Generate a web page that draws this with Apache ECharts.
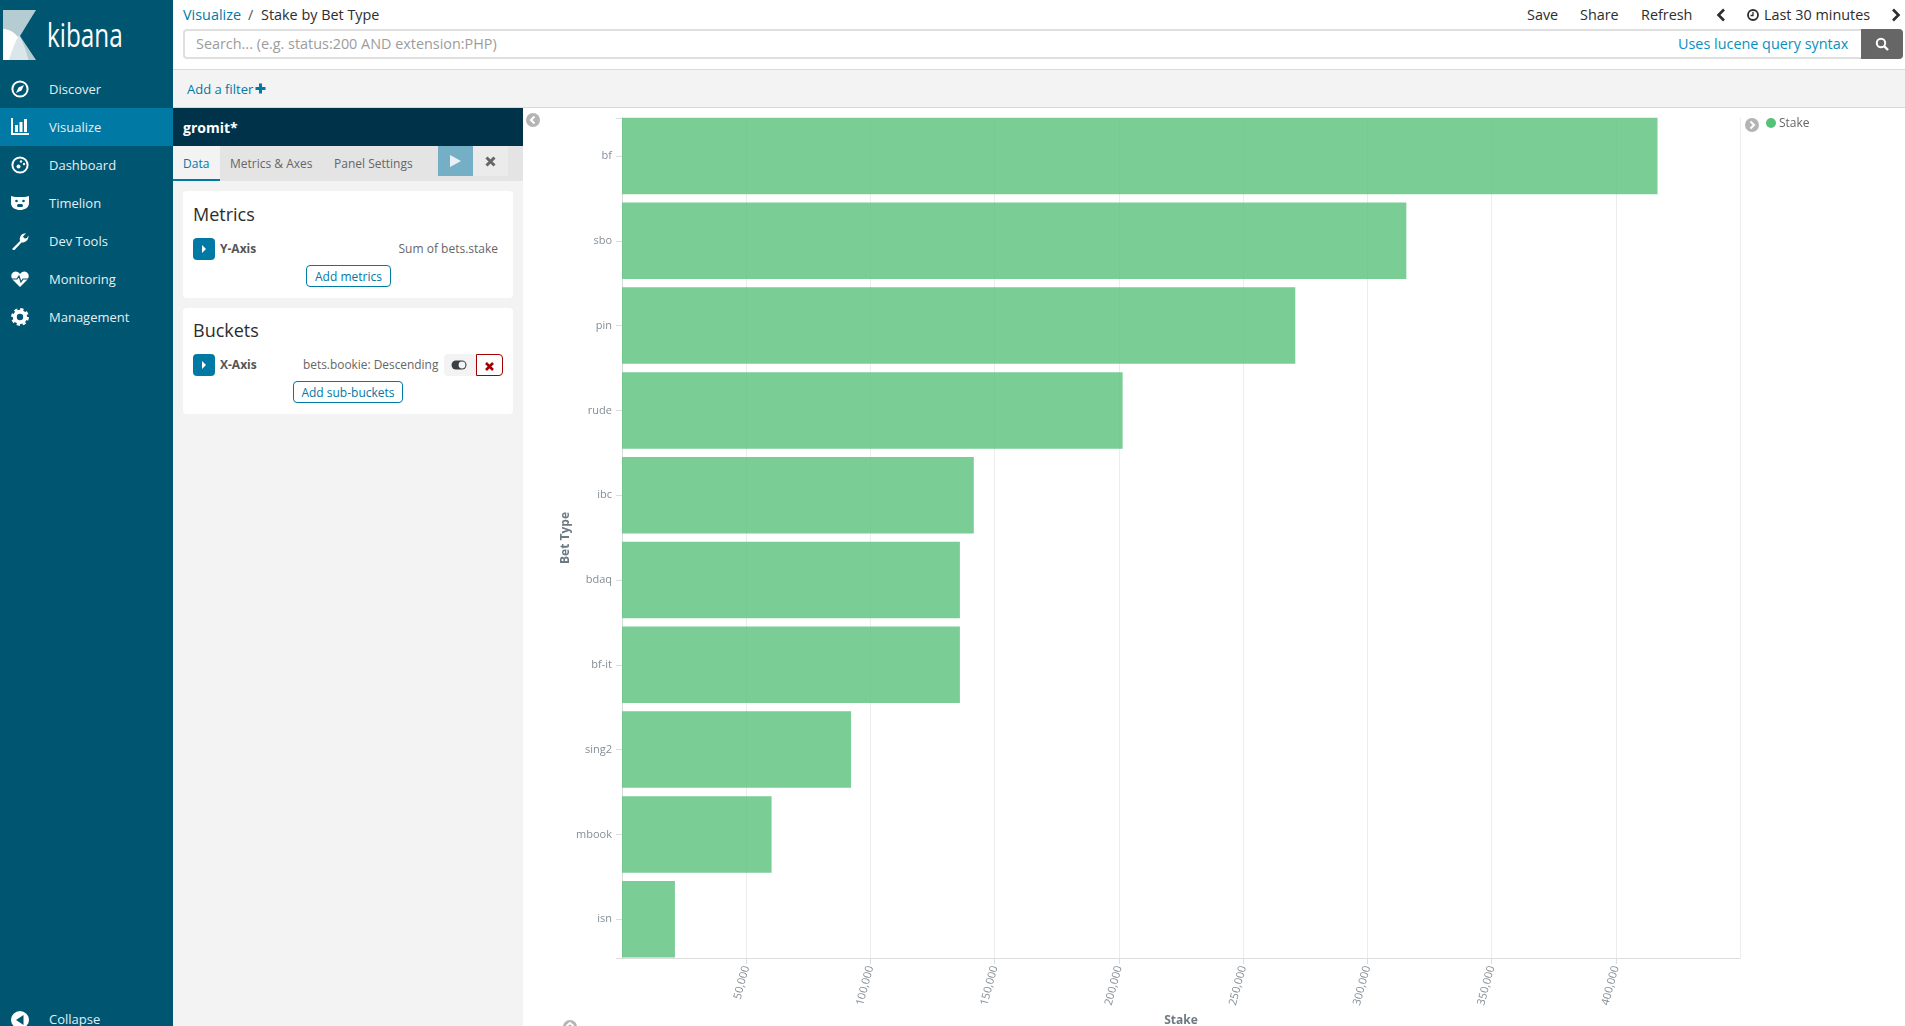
<!DOCTYPE html>
<html>
<head>
<meta charset="utf-8">
<title>Stake by Bet Type - Kibana</title>
<script src="https://cdn.jsdelivr.net/npm/echarts@6/dist/echarts.min.js"></script>
<style>
html,body{margin:0;padding:0;width:1905px;height:1026px;overflow:hidden;background:#fff;font-family:"Open Sans",sans-serif;font-size:13px;color:#2d2d2d}
.a{position:absolute;white-space:nowrap;line-height:1}
.box{position:absolute;box-sizing:border-box}
.nav{position:absolute;left:49px;color:#e4f0f5;font-size:13px;line-height:1;white-space:nowrap}
.link{color:#0079a5}
.ico{position:absolute}
#chart{position:absolute;left:524px;top:108px;width:1381px;height:918px}
</style>
</head>
<body>
<!-- side nav -->
<div class="box" style="left:0;top:0;width:173px;height:1026px;background:#005571"></div>
<div class="box" style="left:0;top:108px;width:173px;height:38px;background:#0079a5"></div>
<svg class="ico" style="left:3px;top:10px" width="33" height="50" viewBox="0 0 33 50">
	<polygon points="0,0 33,0 17,26 33,50 0,50" fill="#b5ccd3"/>
	<path d="M0,19 C10,19 20,28 25,50 L0,50 Z" fill="#fff"/>
	<path d="M6,50 C9,40 12,32 16,25 C20,32 23,40 25,50 Z" fill="#dbe6ea"/>
</svg>
<div class="a" style="left:47px;top:19px;font-size:32px;color:#fff;transform:scaleX(.76);transform-origin:0 0">kibana</div>

<svg class="ico" style="left:11px;top:80px" width="18" height="18" viewBox="0 0 18 18"><circle cx="9" cy="9" r="7.6" fill="none" stroke="#fff" stroke-width="2"/><polygon points="13,5 10.5,10.5 5,13 7.5,7.5" fill="#fff"/></svg>
<svg class="ico" style="left:11px;top:118px" width="18" height="18" viewBox="0 0 18 18"><path d="M1,0 V16 H18" fill="none" stroke="#fff" stroke-width="2"/><rect x="4" y="7" width="3" height="7" fill="#fff"/><rect x="8.5" y="4" width="3" height="10" fill="#fff"/><rect x="13" y="1" width="3" height="13" fill="#fff"/></svg>
<svg class="ico" style="left:11px;top:156px" width="18" height="18" viewBox="0 0 18 18"><circle cx="9" cy="9" r="7.6" fill="none" stroke="#fff" stroke-width="2"/><circle cx="7.5" cy="10.5" r="2" fill="#fff"/><circle cx="10" cy="5.5" r="1.2" fill="#fff"/><circle cx="13" cy="8" r="1.2" fill="#fff"/></svg>
<svg class="ico" style="left:11px;top:195px" width="18" height="16" viewBox="0 0 18 16"><path d="M0,1 L4,2 H14 L18,1 V8 C18,13 13,15 9,15 C5,15 0,13 0,8 Z" fill="#fff"/><circle cx="5.5" cy="6" r="1.3" fill="#005571"/><circle cx="12.5" cy="6" r="1.3" fill="#005571"/><rect x="6" y="9" width="6" height="3" rx="1.5" fill="#005571"/></svg>
<svg class="ico" style="left:11px;top:232px" width="18" height="18" viewBox="0 0 18 18"><path d="M1.5,16.5 L9,9 C8,5 10.5,1 15,1.2 L12,4.5 L13.5,6.5 L16,6 L17.5,3.5 C18,8 14,11 10.5,10.5 L3.5,18 C2,18.5 .8,17.5 1.5,16.5 Z" fill="#fff"/></svg>
<svg class="ico" style="left:11px;top:271px" width="18" height="16" viewBox="0 0 18 16"><path d="M9,16 L1.5,8.5 C-1,5.5 .5,.5 4.5,.5 C6.5,.5 8,1.5 9,3 C10,1.5 11.5,.5 13.5,.5 C17.5,.5 19,5.5 16.5,8.5 Z" fill="#fff"/><path d="M1,8 H6 L8,5 L10,11 L12,8 H17" fill="none" stroke="#005571" stroke-width="1.2"/></svg>
<svg class="ico" style="left:11px;top:308px" width="18" height="18" viewBox="0 0 18 18"><circle cx="9" cy="9" r="5.2" fill="none" stroke="#fff" stroke-width="4"/><circle cx="9" cy="9" r="7.6" fill="none" stroke="#fff" stroke-width="2.6" stroke-dasharray="3.2 2.77"/></svg>
<svg class="ico" style="left:11px;top:1011px" width="18" height="18" viewBox="0 0 18 18"><circle cx="9" cy="9" r="9" fill="#fff"/><polygon points="12.5,4 12.5,14 5,9" fill="#005571"/></svg>

<div class="nav" style="top:83px">Discover</div>
<div class="nav" style="top:121px">Visualize</div>
<div class="nav" style="top:159px">Dashboard</div>
<div class="nav" style="top:197px">Timelion</div>
<div class="nav" style="top:235px">Dev Tools</div>
<div class="nav" style="top:273px">Monitoring</div>
<div class="nav" style="top:311px">Management</div>
<div class="nav" style="top:1013px">Collapse</div>

<!-- top bar -->
<div class="a link" style="left:183px;top:8px;font-size:14.4px">Visualize</div>
<div class="a" style="left:248px;top:8px;font-size:14.4px;color:#555">/</div>
<div class="a" style="left:261px;top:8px;font-size:14.4px">Stake by Bet Type</div>
<div class="a" style="left:1527px;top:8px;font-size:14.4px">Save</div>
<div class="a" style="left:1580px;top:8px;font-size:14.4px">Share</div>
<div class="a" style="left:1641px;top:8px;font-size:14.4px">Refresh</div>
<svg class="ico" style="left:1716px;top:8px" width="10" height="14" viewBox="0 0 10 14"><path d="M8,1.5 L2.5,7 L8,12.5" fill="none" stroke="#2d2d2d" stroke-width="2.6"/></svg>
<svg class="ico" style="left:1747px;top:9px" width="12" height="12" viewBox="0 0 12 12"><circle cx="6" cy="6" r="5" fill="none" stroke="#2d2d2d" stroke-width="1.8"/><path d="M6,3 V6.5 H3.5" fill="none" stroke="#2d2d2d" stroke-width="1.3"/></svg>
<div class="a" style="left:1764px;top:8px;font-size:14.4px">Last 30 minutes</div>
<svg class="ico" style="left:1891px;top:8px" width="10" height="14" viewBox="0 0 10 14"><path d="M2,1.5 L7.5,7 L2,12.5" fill="none" stroke="#2d2d2d" stroke-width="2.6"/></svg>

<div class="box" style="left:183px;top:29px;width:1680px;height:30px;border:2px solid #dfdfdf;border-right:0;border-radius:4px 0 0 4px"></div>
<div class="a" style="left:196px;top:37px;font-size:14.4px;color:#9c9c9c">Search... (e.g. status:200 AND extension:PHP)</div>
<div class="a" style="left:1678px;top:37px;font-size:14.4px;color:#0a8fc0">Uses lucene query syntax</div>
<div class="box" style="left:1861px;top:29px;width:42px;height:30px;background:#666;border-radius:0 4px 4px 0"></div>
<svg class="ico" style="left:1875px;top:37px" width="14" height="14" viewBox="0 0 14 14"><circle cx="6" cy="6" r="4.2" fill="none" stroke="#fff" stroke-width="2"/><path d="M9,9 L13,13" stroke="#fff" stroke-width="2.4"/></svg>

<!-- filter bar -->
<div class="box" style="left:173px;top:69px;width:1732px;height:39px;background:#f3f3f3;border-top:1px solid #d9d9d9;border-bottom:1px solid #d9d9d9"></div>
<div class="a link" style="left:187px;top:83px;font-size:13px">Add a filter</div>
<svg class="ico" style="left:255px;top:83px" width="11" height="11" viewBox="0 0 11 11"><path d="M5.5,.5 V10.5 M.5,5.5 H10.5" stroke="#0079a5" stroke-width="3"/></svg>

<!-- vis editor panel -->
<div class="box" style="left:173px;top:108px;width:350px;height:918px;background:#f3f3f3"></div>
<div class="box" style="left:173px;top:108px;width:350px;height:38px;background:#003249"></div>
<div class="a" style="left:183px;top:121px;font-size:14px;font-weight:700;color:#fff">gromit*</div>
<div class="box" style="left:173px;top:146px;width:350px;height:35px;background:#e4e4e4"></div>
<div class="box" style="left:173px;top:146px;width:47px;height:35px;background:#f3f3f3;border-bottom:2px solid #0079a5"></div>
<div class="a link" style="left:183px;top:158px;font-size:12px">Data</div>
<div class="a" style="left:230px;top:158px;font-size:12px;color:#666">Metrics &amp; Axes</div>
<div class="a" style="left:334px;top:158px;font-size:12px;color:#666">Panel Settings</div>
<div class="box" style="left:438px;top:146px;width:35px;height:30px;background:#74afc6"></div>
<svg class="ico" style="left:449px;top:154px" width="13" height="14" viewBox="0 0 13 14"><polygon points="1,1 12,7 1,13" fill="#e8f2f6"/></svg>
<div class="box" style="left:473px;top:146px;width:35px;height:30px;background:#ebebeb"></div>
<svg class="ico" style="left:485px;top:156px" width="11" height="11" viewBox="0 0 11 11"><path d="M1.5,1.5 L9.5,9.5 M9.5,1.5 L1.5,9.5" stroke="#666" stroke-width="3"/></svg>

<div class="box" style="left:183px;top:191px;width:330px;height:107px;background:#fff;border-radius:4px"></div>
<div class="a" style="left:193px;top:205px;font-size:18px">Metrics</div>
<div class="box" style="left:193px;top:238px;width:22px;height:22px;background:#0079a5;border-radius:4px"></div>
<svg class="ico" style="left:201px;top:245px" width="6" height="8" viewBox="0 0 6 8"><polygon points="1,0 5,4 1,8" fill="#fff"/></svg>
<div class="a" style="left:220px;top:243px;font-size:12px;font-weight:700;color:#555">Y-Axis</div>
<div class="a" style="right:1407px;top:243px;font-size:12px;color:#666">Sum of bets.stake</div>
<div class="box link" style="left:306px;top:265px;width:85px;height:22px;border:1px solid #0079a5;border-radius:4px;font-size:12px;text-align:center;line-height:21px">Add metrics</div>

<div class="box" style="left:183px;top:308px;width:330px;height:106px;background:#fff;border-radius:4px"></div>
<div class="a" style="left:193px;top:321px;font-size:18px">Buckets</div>
<div class="box" style="left:193px;top:354px;width:22px;height:22px;background:#0079a5;border-radius:4px"></div>
<svg class="ico" style="left:201px;top:361px" width="6" height="8" viewBox="0 0 6 8"><polygon points="1,0 5,4 1,8" fill="#fff"/></svg>
<div class="a" style="left:220px;top:359px;font-size:12px;font-weight:700;color:#555">X-Axis</div>
<div class="a" style="left:303px;top:359px;font-size:11.9px;color:#666">bets.bookie: Descending</div>
<div class="box" style="left:444px;top:354px;width:33px;height:22px;background:#f3f3f3;border-radius:4px 0 0 4px"></div>
<svg class="ico" style="left:451px;top:360px" width="16" height="10" viewBox="0 0 16 10"><rect x=".5" y=".5" width="15" height="9" rx="4.5" fill="#3a3f44"/><circle cx="11" cy="5" r="3.4" fill="#f3f3f3"/></svg>
<div class="box" style="left:476px;top:354px;width:27px;height:22px;background:#fff;border:1px solid #a30000;border-radius:0 4px 4px 0"></div>
<svg class="ico" style="left:485px;top:362px" width="9" height="9" viewBox="0 0 9 9"><path d="M1,1 L8,8 M8,1 L1,8" stroke="#a30000" stroke-width="2.6"/></svg>
<div class="box link" style="left:293px;top:381px;width:110px;height:22px;border:1px solid #0079a5;border-radius:4px;font-size:12px;text-align:center;line-height:21px">Add sub-buckets</div>

<!-- chart -->
<div id="chart"></div>
<svg class="ico" style="left:526px;top:113px" width="14" height="14" viewBox="0 0 14 14"><circle cx="7" cy="7" r="7" fill="#b4b4b4"/><path d="M8.5,3.5 L5,7 L8.5,10.5" fill="none" stroke="#fff" stroke-width="2"/></svg>
<svg class="ico" style="left:1745px;top:118px" width="14" height="14" viewBox="0 0 14 14"><circle cx="7" cy="7" r="7" fill="#b4b4b4"/><path d="M5.5,3.5 L9,7 L5.5,10.5" fill="none" stroke="#fff" stroke-width="2"/></svg>
<svg class="ico" style="left:563px;top:1020px" width="14" height="6" viewBox="0 0 14 6"><circle cx="7" cy="7" r="7" fill="#b4b4b4"/><path d="M3.5,6 L7,3 L10.5,6" fill="none" stroke="#fff" stroke-width="2"/></svg>
<div class="box" style="left:1740px;top:118px;width:1px;height:840px;background:#ececec"></div>
<div class="box" style="left:1766px;top:118px;width:10px;height:10px;border-radius:5px;background:#57c17b"></div>
<div class="a" style="left:1779px;top:117px;font-size:12px;color:#666">Stake</div>

<script>
var betTypes = ["bf","sbo","pin","rude","ibc","bdaq","bf-it","sing2","mbook","isn"];
var stakeValues = [416800,315700,271000,201500,141600,136000,136000,92200,60200,21300];
var stakeMax = 450000;
var stakeStep = 50000;
var seriesName = "Stake";
var xTitle = "Stake";
var yTitle = "Bet Type";

var axisColor = "#dcdcdc";
var labelColor = "#848e96";
var titleColor = "#6c7a84";

var formatStake = function(v){
	return String(v).replace(/\B(?=(\d{3})+$)/g,",");
}

var chart = echarts.init(document.getElementById("chart"));
chart.setOption({
	animation: false,
	textStyle: {fontFamily: "Open Sans"},
	// grid 0 holds the bars, grid 1 the axes: kibana bands stop short of the axis ends
	grid: [
		{left: 98, top: 5.6, width: 1118, height: 848, outerBoundsMode: "none"},
		{left: 98, top: 10, width: 1118, height: 840, outerBoundsMode: "none"}
	],
	xAxis: [
		{gridIndex: 0, type: "value", min: 0, max: stakeMax, interval: stakeStep, show: false},
		{
			gridIndex: 1, type: "value", min: 0, max: stakeMax, interval: stakeStep,
			name: xTitle, nameLocation: "middle", nameGap: 56,
			nameTextStyle: {color: titleColor, fontWeight: "bold", fontSize: 12},
			axisLine: {show: true, lineStyle: {color: axisColor}},
			axisTick: {show: true, length: 6, lineStyle: {color: axisColor}},
			splitLine: {show: true, lineStyle: {color: "#ededed"}},
			axisLabel: {
				rotate: 75, margin: 8, color: labelColor, fontSize: 11,
				showMinLabel: false, showMaxLabel: false, formatter: formatStake
			}
		}
	],
	yAxis: [
		{
			gridIndex: 0, type: "category", inverse: true, data: betTypes,
			axisLine: {show: false},
			axisTick: {show: true, alignWithLabel: true, length: 6, lineStyle: {color: axisColor}},
			axisLabel: {color: labelColor, fontSize: 11, margin: 10}
		},
		{
			gridIndex: 1, type: "value", min: 0, max: 1, interval: 1,
			name: yTitle, nameLocation: "middle", nameGap: 50,
			nameTextStyle: {color: titleColor, fontWeight: "bold", fontSize: 12},
			axisLine: {show: true, lineStyle: {color: axisColor}},
			axisTick: {show: true, length: 6, lineStyle: {color: axisColor}},
			axisLabel: {show: false},
			splitLine: {show: false}
		}
	],
	series: [{
		name: seriesName,
		type: "bar",
		xAxisIndex: 0,
		yAxisIndex: 0,
		data: stakeValues,
		barWidth: 76.5,
		itemStyle: {color: "#57c17b", opacity: 0.8}
	}]
});
</script>
</body>
</html>
